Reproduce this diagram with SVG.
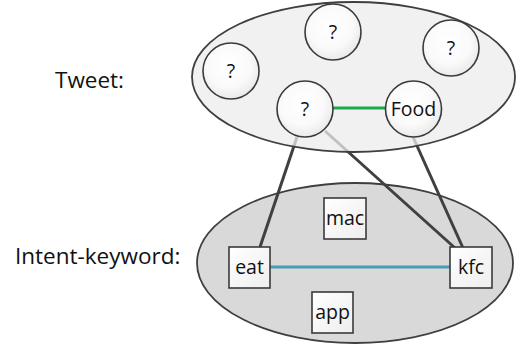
<svg xmlns="http://www.w3.org/2000/svg" width="520" height="349" viewBox="0 0 520 349">
<defs>
<radialGradient id="cg" cx="0.45" cy="0.4" r="0.65">
<stop offset="0" stop-color="#ffffff"/>
<stop offset="0.6" stop-color="#fafafa"/>
<stop offset="1" stop-color="#e6e6e6"/>
</radialGradient>
<linearGradient id="bg" x1="0" y1="0" x2="1" y2="1">
<stop offset="0" stop-color="#ffffff"/>
<stop offset="1" stop-color="#eeeeee"/>
</linearGradient>
</defs>
<style>
.lbl{font-family:"Open Sans","Liberation Sans",sans-serif;font-size:22.5px;fill:#111}
.t{font-family:"Open Sans","Liberation Sans",sans-serif;font-size:19.5px;fill:#111;text-anchor:middle}
.c{fill:url(#cg);stroke:#3a3a3a;stroke-width:1.6}
.b{fill:url(#bg);stroke:#3a3a3a;stroke-width:1.6}
.e{stroke:#3f3f3f;stroke-width:1.8}
.link{stroke:#404040;stroke-width:3;fill:none}
</style>
<rect width="520" height="349" fill="#ffffff"/>
<text class="lbl" x="55" y="88">Tweet:</text>
<text class="lbl" x="15" y="264">Intent-keyword:</text>
<g id="intent-set"><ellipse class="e" cx="355" cy="263" rx="158" ry="80" fill="#d9d9d9"/></g>
<g id="connectors">
<line class="link" x1="297" y1="137" x2="260" y2="247"/>
<line class="link" x1="325" y1="131" x2="455" y2="248"/>
<line class="link" x1="413" y1="137" x2="463" y2="248"/>
<line x1="270" y1="267" x2="450" y2="267" stroke="#4a9cb6" stroke-width="3"/>
</g>
<g id="tweet-set"><ellipse class="e" cx="353.5" cy="77" rx="161.5" ry="75" fill="#ececec" fill-opacity="0.75"/></g>
<g id="connector-green"><line x1="333" y1="108" x2="385" y2="108" stroke="#1fa84f" stroke-width="3"/></g>
<g id="q1"><circle class="c" cx="333" cy="32" r="28"/><text class="t" x="333" y="39">?</text></g>
<g id="q2"><circle class="c" cx="451" cy="48" r="28"/><text class="t" x="451" y="55">?</text></g>
<g id="q3"><circle class="c" cx="231" cy="71" r="28"/><text class="t" x="231" y="78">?</text></g>
<g id="q4"><circle class="c" cx="305" cy="109" r="28"/><text class="t" x="305" y="116">?</text></g>
<g id="food"><circle class="c" cx="413.5" cy="109" r="28"/><text class="t" x="413.5" y="116">Food</text></g>
<g id="mac"><rect class="b" x="324" y="198" width="42" height="41"/><text class="t" x="345" y="225">mac</text></g>
<g id="eat"><rect class="b" x="229" y="247" width="41" height="41"/><text class="t" x="249.5" y="274">eat</text></g>
<g id="kfc"><rect class="b" x="450" y="247" width="42" height="41"/><text class="t" x="471" y="274">kfc</text></g>
<g id="app"><rect class="b" x="312" y="292" width="41" height="41"/><text class="t" x="332.5" y="319">app</text></g>
</svg>
